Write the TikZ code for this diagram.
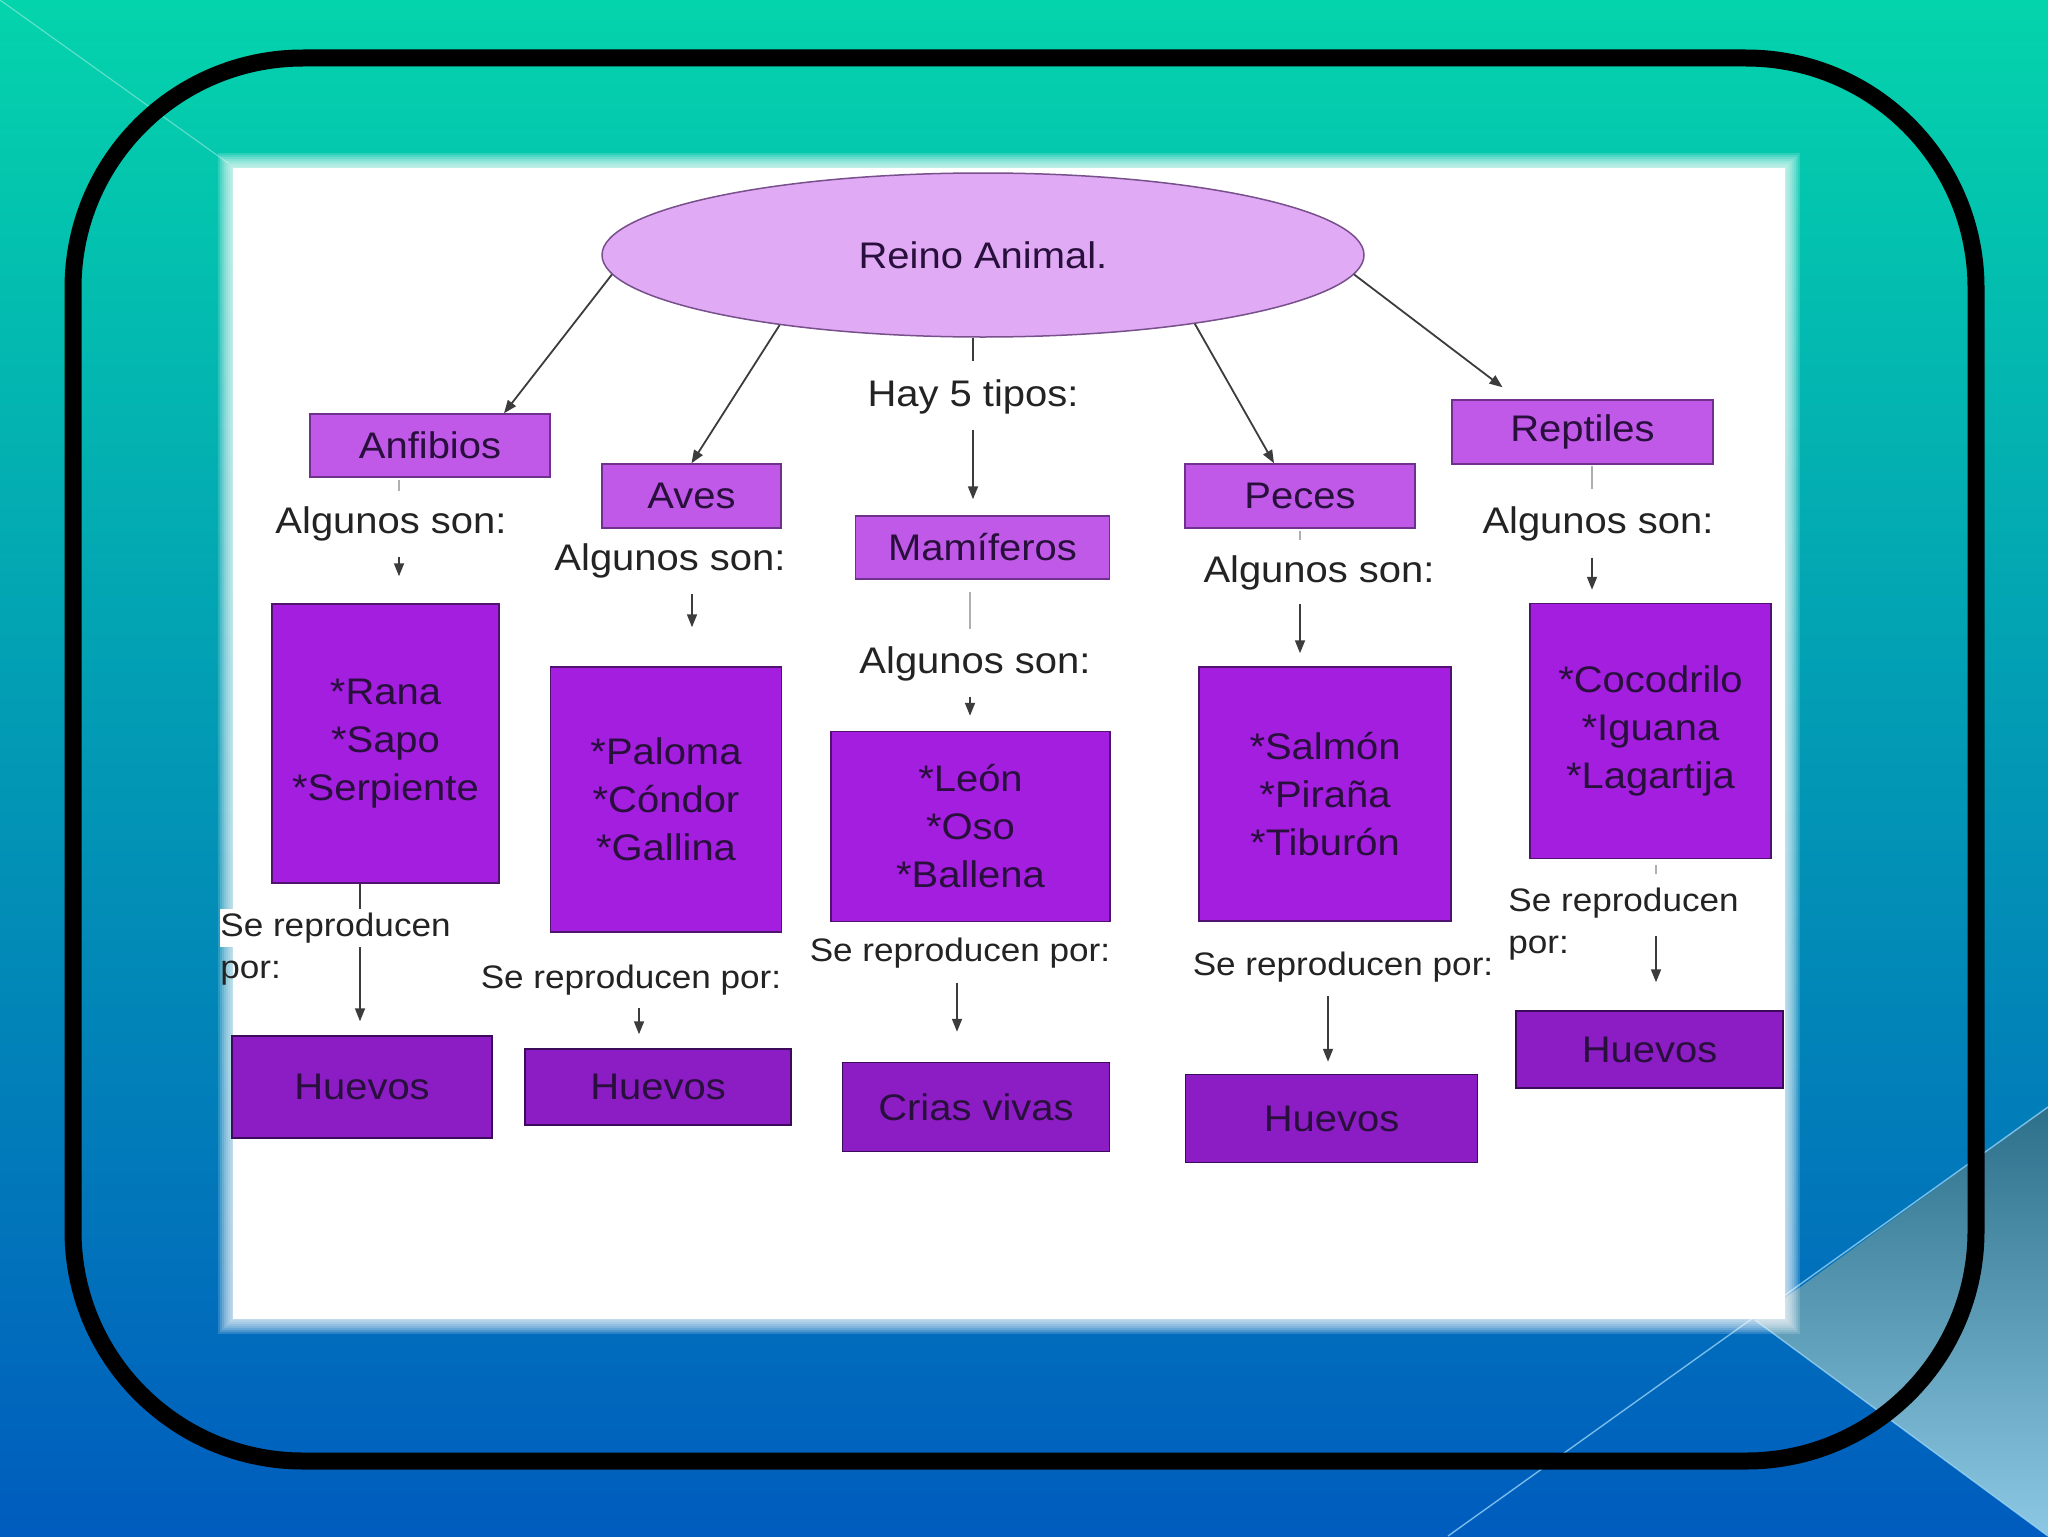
\documentclass[tikz,border=0pt]{standalone}
\usepackage{fontspec}
\setmainfont[FakeStretch=1.08]{Liberation Sans}
\usetikzlibrary{shapes.geometric,arrows.meta,calc}
\definecolor{bgtop}{RGB}{4,212,172}
\definecolor{bgmid}{RGB}{0,162,176}
\definecolor{bgbot}{RGB}{0,92,190}
\definecolor{tritop}{RGB}{45,112,138}
\definecolor{tribot}{RGB}{140,200,228}
\definecolor{hdrfill}{RGB}{192,88,232}
\definecolor{hdrborder}{RGB}{110,50,140}
\definecolor{lstfill}{RGB}{163,30,222}
\definecolor{lstborder}{RGB}{80,20,110}
\definecolor{eggfill}{RGB}{140,28,196}
\definecolor{eggborder}{RGB}{60,10,90}
\definecolor{ellfill}{RGB}{224,170,245}
\definecolor{ellborder}{RGB}{120,80,140}
\definecolor{boxtext}{RGB}{40,15,60}
\definecolor{lbltext}{RGB}{35,35,35}
\definecolor{linkgray}{RGB}{60,60,60}
\definecolor{faintgray}{RGB}{175,175,175}
\definecolor{glint}{RGB}{150,210,245}
\newcommand\mybig{\fontsize{18.5}{24}\selectfont}
\newcommand\mysmall{\fontsize{16.25}{22.5}\selectfont}
\begin{document}
\begin{tikzpicture}[x=0.5pt,y=-0.5pt,
  hdr/.style={draw=hdrborder, fill=hdrfill, line width=0.75pt, inner sep=0pt, font=\mybig, text=boxtext},
  lst/.style={draw=lstborder, fill=lstfill, line width=0.75pt, inner sep=0pt, align=center, font=\mybig, text=boxtext},
  egg/.style={draw=eggborder, fill=eggfill, line width=0.75pt, inner sep=0pt, font=\mybig, text=boxtext},
  lbl/.style={inner sep=0pt, font=\mybig, text=lbltext},
  slbl/.style={inner sep=0pt, font=\mysmall, text=lbltext},
  link/.style={draw=linkgray, line width=0.9pt},
  arr/.style={link, -{Triangle[length=6.5pt,width=5pt]}},
  faint/.style={draw=faintgray, line width=0.9pt}]
\useasboundingbox (0,0) rectangle (2048,1536);
% background
\shade[top color=bgtop, middle color=bgmid, bottom color=bgbot] (0,0) rectangle (2048,1536);
\shade[top color=tritop, bottom color=tribot] (2048,1107) -- (1755,1320) -- (2048,1536) -- cycle;
\draw[glint, opacity=0.8, line width=0.7pt] (2048,1107) -- (1448,1536);
\draw[glint, opacity=0.8, line width=0.7pt] (1755,1320) -- (2048,1536);
\draw[white, opacity=0.35, line width=0.6pt] (0,0) -- (228,163);
% white panel with soft edge
\foreach \d in {10,8,...,-4}{
  \fill[white, opacity=0.16] (228-\d,163-\d) rectangle (1790+\d,1324+\d);
}
\fill[white] (233,168) rectangle (1785,1319);
% frame
\draw[black, line width=8.5pt, rounded corners=115pt] (73,58) rectangle (1976,1461);

% main nodes
\node[ellipse, draw=ellborder, fill=ellfill, line width=0.75pt, minimum width=381pt, minimum height=82pt, font=\mybig, text=boxtext] (reino) at (983,255) {Reino Animal.};
\node[lbl] (hay) at (973,397) {Hay 5 tipos:};

\node[hdr, minimum width=120pt, minimum height=31.5pt] (anf) at (430,445.5) {Anfibios};
\node[hdr, minimum width=89.5pt, minimum height=32pt] (aves) at (691.5,496) {Aves};
\node[hdr, minimum width=127pt, minimum height=31.5pt] (mam) at (982.5,547.5) {Mamíferos};
\node[hdr, minimum width=115pt, minimum height=32pt] (pec) at (1300,496) {Peces};
\node[hdr, minimum width=130.5pt, minimum height=32pt] (rep) at (1582.5,432) {Reptiles};

\node[lbl] (alg1) at (391,524) {Algunos son:};
\node[lbl] (alg2) at (670,561) {Algunos son:};
\node[lbl] (alg3) at (975,664) {Algunos son:};
\node[lbl] (alg4) at (1319,573) {Algunos son:};
\node[lbl] (alg5) at (1598,524) {Algunos son:};

\node[lst, minimum width=113.5pt, minimum height=139.5pt] (l1) at (385.5,743.5) {*Rana\\*Sapo\\*Serpiente};
\node[lst, minimum width=115.5pt, minimum height=132.5pt] (l2) at (666,799.5) {*Paloma\\*Cóndor\\*Gallina};
\node[lst, minimum width=139.5pt, minimum height=95pt] (l3) at (970.5,826.5) {*León\\*Oso\\*Ballena};
\node[lst, minimum width=126pt, minimum height=127pt] (l4) at (1325,794) {*Salmón\\*Piraña\\*Tiburón};
\node[lst, minimum width=120.5pt, minimum height=127.5pt] (l5) at (1650.5,731) {*Cocodrilo\\*Iguana\\*Lagartija};

\node[egg, minimum width=130pt, minimum height=51pt] (h1) at (362,1087) {Huevos};
\node[egg, minimum width=133pt, minimum height=38pt] (h2) at (658,1087) {Huevos};
\node[egg, minimum width=133.5pt, minimum height=44.5pt] (h3) at (976,1107) {Crias vivas};
\node[egg, minimum width=146pt, minimum height=44pt] (h4) at (1331.5,1118.5) {Huevos};
\node[egg, minimum width=133.5pt, minimum height=38.5pt] (h5) at (1649.5,1049.5) {Huevos};

\node[slbl] (se2) at (631,980) {Se reproducen por:};
\node[slbl] (se3) at (960,953) {Se reproducen por:};
\node[slbl] (se4) at (1343,967) {Se reproducen por:};
\node[slbl, anchor=west] (se5a) at (1508,903) {Se reproducen};
\node[slbl, anchor=west] (se5b) at (1508,948) {por:};

% arrow columns
\coordinate (ax1) at (399,0);
\coordinate (ax2) at (692,0);
\coordinate (ax3) at (970,0);
\coordinate (ax4) at (1300,0);
\coordinate (ax5) at (1592,0);
\coordinate (bx1) at (360,0);
\coordinate (bx2) at (639,0);
\coordinate (bx3) at (957,0);
\coordinate (bx4) at (1328,0);
\coordinate (bx5) at (1656,0);

% connectors from the ellipse
\draw[arr] (reino.183) -- ([xshift=37pt]anf.north);
\draw[arr] (reino.199) -- (aves.north);
\draw[arr] (reino.342) -- ([xshift=-13pt]pec.north);
\draw[arr] (reino.357) -- ([xshift=-40pt,yshift=6pt]rep.north);
\draw[link, shorten >=9pt] (reino.south -| hay) -- (hay.north);
\draw[arr, shorten <=7.5pt, shorten >=8pt] (hay.south) -- (hay.south |- mam.north);

% header -> label -> list
\draw[faint, shorten <=1pt, shorten >=7.5pt] (anf.south -| ax1) -- (ax1 |- alg1.north);
\draw[arr, shorten <=7.5pt, shorten >=13.5pt] (alg1.south -| ax1) -- (ax1 |- l1.north);
\draw[arr, shorten <=7.5pt, shorten >=19.5pt] (alg2.south -| ax2) -- (ax2 |- l2.north);
\draw[faint, shorten <=6pt, shorten >=8.5pt] (mam.south -| ax3) -- (ax3 |- alg3.north);
\draw[arr, shorten <=7.5pt, shorten >=7.5pt] (alg3.south -| ax3) -- (ax3 |- l3.north);
\draw[faint, shorten <=1pt, shorten >=7.5pt] (pec.south -| ax4) -- (ax4 |- alg4.north);
\draw[arr, shorten <=6.5pt, shorten >=6.5pt] (alg4.south -| ax4) -- (ax4 |- l4.north);
\draw[faint, shorten <=0.5pt, shorten >=8.5pt] (rep.south -| ax5) -- (ax5 |- alg5.north);
\draw[arr, shorten <=8pt, shorten >=6.5pt] (alg5.south -| ax5) -- (ax5 |- l5.north);

% list -> reproduction
\draw[arr, shorten >=7pt] (l1.south -| bx1) -- (bx1 |- h1.north);
\draw[arr, shorten <=6pt, shorten >=7pt] (se2.south -| bx2) -- (bx2 |- h2.north);
\draw[arr, shorten <=7pt, shorten >=15pt] (se3.south -| bx3) -- (bx3 |- h3.north);
\draw[arr, shorten <=6.5pt, shorten >=6pt] (se4.south -| bx4) -- (bx4 |- h4.north);
\draw[arr, shorten <=8.5pt, shorten >=14pt] (se5a.south -| bx5) -- (bx5 |- h5.north);
\draw[faint, shorten <=3pt, shorten >=-7pt] (l5.south -| bx5) -- ++(0,1);

% label drawn over the Anfibios connector
\node[slbl, anchor=west, fill=white, inner ysep=2pt] (se1a) at (220,928) {Se reproducen};
\node[slbl, anchor=west] (se1b) at (220,973) {por:};
\end{tikzpicture}
\end{document}
